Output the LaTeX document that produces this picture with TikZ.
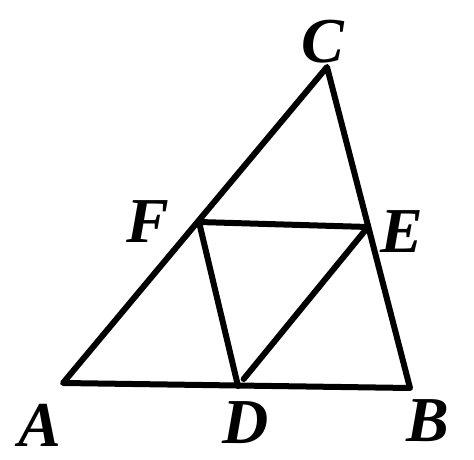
\documentclass[tikz,border=0pt]{standalone}
\usepackage{fontspec}
\setmainfont{Liberation Serif}
\begin{document}
\begin{tikzpicture}[x=1pt,y=1pt,
  seg/.style={line width=6pt,line join=round,line cap=round},
  lbl/.style={font=\fontsize{64}{64}\selectfont\bfseries\itshape,inner sep=0pt}]
\useasboundingbox (0,0) rectangle (474,460);
\coordinate (A) at (63,77);
\coordinate (B) at (410,72);
\coordinate (C) at (327,393);
\coordinate (D) at (238,74);
\coordinate (E) at (368,233);
\coordinate (F) at (199,238);
\draw[seg] (A) -- (B) -- (C) -- cycle;
\draw[seg] (F) -- (E);
\draw[seg] (F) -- (D);
\draw[seg,shorten >=9pt] (E) -- (D);
\node[lbl] (lC) at (323,418) {C};
\node[lbl] (lF) at (148,238) {F};
\node[lbl] (lE) at (402,228) {E};
\node[lbl] (lA) at (40,35) {A};
\node[lbl] (lD) at (246,37) {D};
\node[lbl] (lB) at (428,39) {B};
\end{tikzpicture}
\end{document}
